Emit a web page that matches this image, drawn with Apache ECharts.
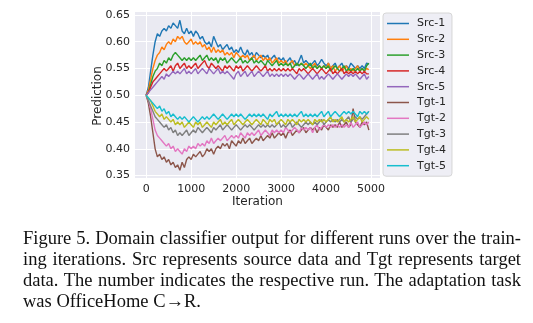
<!DOCTYPE html>
<html>
<head>
<meta charset="utf-8">
<script src="https://cdn.jsdelivr.net/npm/echarts@6/dist/echarts.min.js"></script>
<style>
html,body{margin:0;padding:0;background:#fff;}
#chart{position:absolute;left:0;top:0;width:533px;height:323px;}
#caption{position:absolute;left:23px;top:228px;width:498px;font-family:"Liberation Serif","Times New Roman",serif;font-size:18.5px;line-height:21px;color:#111;}
#caption .j{text-align:justify;text-align-last:justify;white-space:nowrap;}
#caption .l{text-align:left;white-space:nowrap;}
</style>
</head>
<body>
<div id="chart"></div>
<div id="caption">
<div class="j">Figure 5. Domain classifier output for different runs over the train-</div>
<div class="j">ing iterations. Src represents source data and Tgt represents target</div>
<div class="j">data. The number indicates the respective run. The adaptation task</div>
<div class="l">was OfficeHome C→R.</div>
</div>
<script>
const iterations = [
0,50,100,150,200,250,300,350,400,450,
500,550,600,650,700,750,800,850,900,950,
1000,1050,1100,1150,1200,1250,1300,1350,1400,1450,
1500,1550,1600,1650,1700,1750,1800,1850,1900,1950,
2000,2050,2100,2150,2200,2250,2300,2350,2400,2450,
2500,2550,2600,2650,2700,2750,2800,2850,2900,2950,
3000,3050,3100,3150,3200,3250,3300,3350,3400,3450,
3500,3550,3600,3650,3700,3750,3800,3850,3900,3950,
4000,4050,4100,4150,4200,4250,4300,4350,4400,4450,
4500,4550,4600,4650,4700,4750,4800,4850,4900,4950];

const seriesNames = ["Src-1","Src-2","Src-3","Src-4","Src-5","Tgt-1","Tgt-2","Tgt-3","Tgt-4","Tgt-5"];

const src1 = [
.500,.515,.545,.575,.600,.615,.610,.620,.625,.620,
.630,.625,.635,.630,.625,.640,.620,.615,.625,.615,
.620,.610,.620,.615,.605,.610,.600,.595,.600,.590,
.610,.600,.590,.595,.585,.590,.595,.585,.590,.580,
.585,.580,.590,.580,.575,.585,.575,.580,.570,.580,
.575,.570,.575,.570,.575,.565,.570,.575,.565,.570,
.565,.570,.560,.565,.570,.560,.565,.555,.565,.575,
.560,.565,.560,.555,.560,.565,.555,.560,.567,.560,
.555,.560,.550,.555,.560,.550,.555,.560,.550,.555,
.550,.560,.555,.550,.555,.550,.555,.550,.560,.558];

const src2 = [
.500,.510,.530,.550,.565,.575,.580,.590,.585,.595,
.600,.595,.605,.600,.610,.605,.610,.600,.595,.600,
.605,.595,.600,.595,.600,.590,.595,.585,.590,.580,
.590,.580,.585,.580,.585,.575,.580,.575,.580,.570,
.580,.575,.570,.575,.570,.575,.565,.570,.575,.565,
.570,.575,.565,.570,.565,.570,.560,.565,.570,.560,
.565,.560,.565,.555,.560,.565,.555,.560,.555,.560,
.555,.560,.555,.550,.555,.560,.550,.555,.550,.555,
.550,.560,.550,.555,.545,.550,.555,.545,.550,.555,
.545,.550,.545,.550,.555,.545,.550,.545,.550,.548];

const src3 = [
.500,.505,.520,.535,.545,.550,.560,.555,.565,.560,
.570,.565,.575,.580,.575,.570,.565,.570,.565,.570,
.565,.570,.565,.570,.575,.565,.570,.575,.565,.570,
.565,.570,.560,.570,.565,.570,.560,.565,.570,.565,
.560,.565,.570,.560,.565,.560,.565,.570,.560,.565,
.560,.565,.560,.555,.565,.560,.555,.560,.565,.555,
.560,.555,.560,.555,.560,.550,.555,.560,.555,.560,
.555,.550,.555,.560,.550,.555,.550,.555,.550,.555,
.550,.555,.545,.550,.555,.550,.545,.550,.555,.545,
.550,.545,.550,.545,.550,.545,.550,.545,.555,.560];

const src4 = [
.500,.505,.515,.525,.530,.535,.540,.545,.550,.545,
.550,.555,.545,.555,.560,.550,.555,.560,.550,.555,
.550,.555,.560,.550,.555,.560,.565,.555,.550,.560,
.555,.550,.555,.550,.545,.555,.550,.555,.550,.545,
.555,.550,.555,.545,.550,.555,.550,.545,.550,.555,
.550,.545,.550,.555,.545,.550,.545,.550,.545,.550,
.545,.550,.545,.550,.545,.550,.545,.540,.550,.545,
.550,.545,.540,.545,.550,.545,.540,.545,.550,.545,
.540,.545,.550,.540,.545,.540,.545,.550,.540,.545,
.540,.545,.540,.545,.540,.545,.540,.545,.540,.540];

const src5 = [
.500,.505,.510,.515,.520,.525,.530,.535,.530,.540,
.535,.540,.545,.540,.545,.540,.545,.550,.540,.545,
.540,.545,.550,.540,.545,.550,.545,.540,.550,.545,
.540,.545,.550,.540,.545,.540,.545,.540,.535,.530,
.540,.545,.535,.540,.545,.535,.540,.545,.535,.540,
.545,.540,.535,.540,.545,.535,.540,.535,.540,.535,
.540,.535,.540,.535,.540,.535,.530,.535,.540,.535,
.530,.535,.540,.535,.530,.535,.540,.530,.535,.530,
.535,.540,.535,.530,.535,.540,.535,.530,.535,.540,
.535,.540,.535,.540,.535,.530,.535,.540,.530,.535];

const tgt1 = [
.500,.485,.460,.430,.400,.385,.390,.380,.385,.375,
.380,.370,.375,.365,.370,.360,.375,.365,.380,.385,
.380,.390,.385,.390,.395,.385,.390,.400,.395,.400,
.390,.400,.405,.400,.410,.405,.410,.400,.415,.410,
.405,.415,.410,.420,.410,.415,.420,.410,.415,.420,
.415,.425,.415,.420,.425,.420,.430,.420,.425,.430,
.425,.430,.420,.430,.435,.425,.430,.435,.430,.435,
.440,.430,.435,.440,.435,.440,.430,.440,.435,.445,
.440,.435,.445,.440,.445,.440,.450,.440,.445,.450,
.440,.445,.475,.450,.445,.440,.450,.445,.450,.435];

const tgt2 = [
.500,.490,.475,.455,.435,.425,.420,.415,.410,.405,
.410,.400,.405,.395,.400,.395,.390,.400,.395,.405,
.400,.405,.400,.410,.405,.410,.405,.415,.410,.420,
.410,.415,.420,.415,.420,.425,.415,.420,.425,.420,
.425,.420,.430,.425,.420,.430,.425,.430,.425,.430,
.435,.425,.430,.435,.430,.425,.435,.430,.435,.430,
.435,.430,.440,.435,.430,.435,.440,.435,.430,.440,
.435,.440,.435,.440,.430,.440,.445,.435,.440,.445,
.440,.445,.440,.445,.440,.445,.440,.445,.440,.445,
.440,.450,.440,.445,.450,.440,.445,.450,.445,.450];

const tgt3 = [
.500,.490,.480,.470,.460,.455,.450,.445,.440,.445,
.435,.440,.430,.435,.425,.430,.425,.430,.435,.425,
.430,.435,.430,.440,.435,.430,.435,.440,.435,.430,
.440,.435,.440,.445,.435,.440,.445,.440,.435,.440,
.445,.440,.435,.440,.445,.440,.445,.440,.435,.440,
.445,.440,.445,.440,.445,.440,.445,.440,.445,.450,
.440,.445,.440,.445,.450,.440,.445,.450,.445,.440,
.445,.450,.445,.450,.445,.450,.445,.450,.455,.445,
.450,.455,.450,.455,.450,.455,.450,.455,.450,.455,
.460,.450,.455,.460,.455,.460,.455,.460,.465,.470];

const tgt4 = [
.500,.495,.490,.480,.470,.465,.460,.465,.455,.460,
.455,.450,.455,.445,.450,.445,.450,.440,.445,.450,
.445,.440,.450,.445,.450,.440,.445,.450,.445,.440,
.450,.445,.450,.455,.445,.450,.445,.450,.455,.445,
.450,.455,.450,.445,.450,.455,.450,.445,.450,.455,
.450,.445,.455,.450,.445,.455,.450,.455,.445,.450,
.455,.450,.445,.455,.450,.455,.450,.445,.455,.450,
.455,.450,.455,.450,.445,.455,.450,.455,.450,.455,
.450,.455,.460,.450,.455,.450,.455,.460,.450,.455,
.450,.455,.460,.450,.455,.460,.450,.455,.460,.455];

const tgt5 = [
.500,.495,.490,.485,.480,.475,.480,.470,.475,.465,
.470,.460,.465,.460,.455,.460,.455,.460,.455,.450,
.455,.460,.455,.450,.455,.460,.455,.460,.455,.460,
.465,.460,.455,.460,.465,.460,.455,.460,.465,.460,
.465,.460,.465,.460,.455,.460,.465,.460,.465,.460,
.465,.460,.465,.460,.455,.465,.460,.465,.470,.460,
.465,.460,.465,.460,.465,.460,.465,.460,.465,.470,
.460,.465,.460,.465,.460,.465,.460,.465,.470,.460,
.465,.470,.460,.465,.470,.465,.460,.465,.470,.465,
.470,.465,.470,.465,.460,.470,.465,.470,.465,.470];

const seriesValues = [src1, src2, src3, src4, src5, tgt1, tgt2, tgt3, tgt4, tgt5];
const xTicks = [0, 1000, 2000, 3000, 4000, 5000];
const yTicks = [0.35, 0.40, 0.45, 0.50, 0.55, 0.60, 0.65];

const colors = ['#1f77b4','#ff7f0e','#2ca02c','#d62728','#9467bd','#8c564b','#e377c2','#7f7f7f','#bcbd22','#17becf'];
const textColor = '#262626';
const font = 'DejaVu Sans';

const chart = echarts.init(document.getElementById('chart'), null, {renderer: 'canvas'});
chart.setOption({
  animation: false,
  color: colors,
  grid: {left: 135, top: 12, width: 245, height: 166, show: true, backgroundColor: '#EAEAF2', borderWidth: 0},
  xAxis: {
    type: 'value', min: -247.5, max: 5197.5,
    axisLine: {show: false},
    axisTick: {show: false, customValues: xTicks},
    axisLabel: {customValues: xTicks, color: textColor, fontFamily: font, fontSize: 11, margin: 6,
      formatter: v => String(Math.round(v))},
    splitLine: {show: true, lineStyle: {color: '#ffffff', width: 1}}
  },
  yAxis: {
    type: 'value', min: 0.3455, max: 0.6555,
    axisLine: {show: false},
    axisTick: {show: false, customValues: yTicks},
    axisLabel: {customValues: yTicks, color: textColor, fontFamily: font, fontSize: 11, margin: 5,
      formatter: v => v.toFixed(2)},
    splitLine: {show: true, lineStyle: {color: '#ffffff', width: 1}}
  },
  legend: {
    orient: 'vertical', left: 383, top: 13,
    data: seriesNames,
    icon: 'rect',
    itemWidth: 22, itemHeight: 1.5, itemGap: 4.8,
    padding: [5, 6, 5, 4],
    backgroundColor: '#EEEEF5', borderColor: '#D6D6D6', borderWidth: 1, borderRadius: 3,
    textStyle: {color: textColor, fontFamily: font, fontSize: 11, padding: [0, 0, 0, 3]}
  },
  graphic: [
    {type: 'text', x: 98, y: 96, rotation: Math.PI / 2,
      style: {text: 'Prediction', fill: textColor, font: '12px "DejaVu Sans"', align: 'center', verticalAlign: 'middle'}},
    {type: 'text', x: 257.5, y: 202,
      style: {text: 'Iteration', fill: textColor, font: '12px "DejaVu Sans"', align: 'center', verticalAlign: 'middle'}}
  ],
  series: seriesNames.map((name, i) => ({
    name: name, type: 'line', symbol: 'none', showSymbol: false,
    data: iterations.map((it, k) => [it, seriesValues[i][k]]),
    lineStyle: {width: 1.4},
    emphasis: {disabled: true}
  }))
});
</script>
</body>
</html>
